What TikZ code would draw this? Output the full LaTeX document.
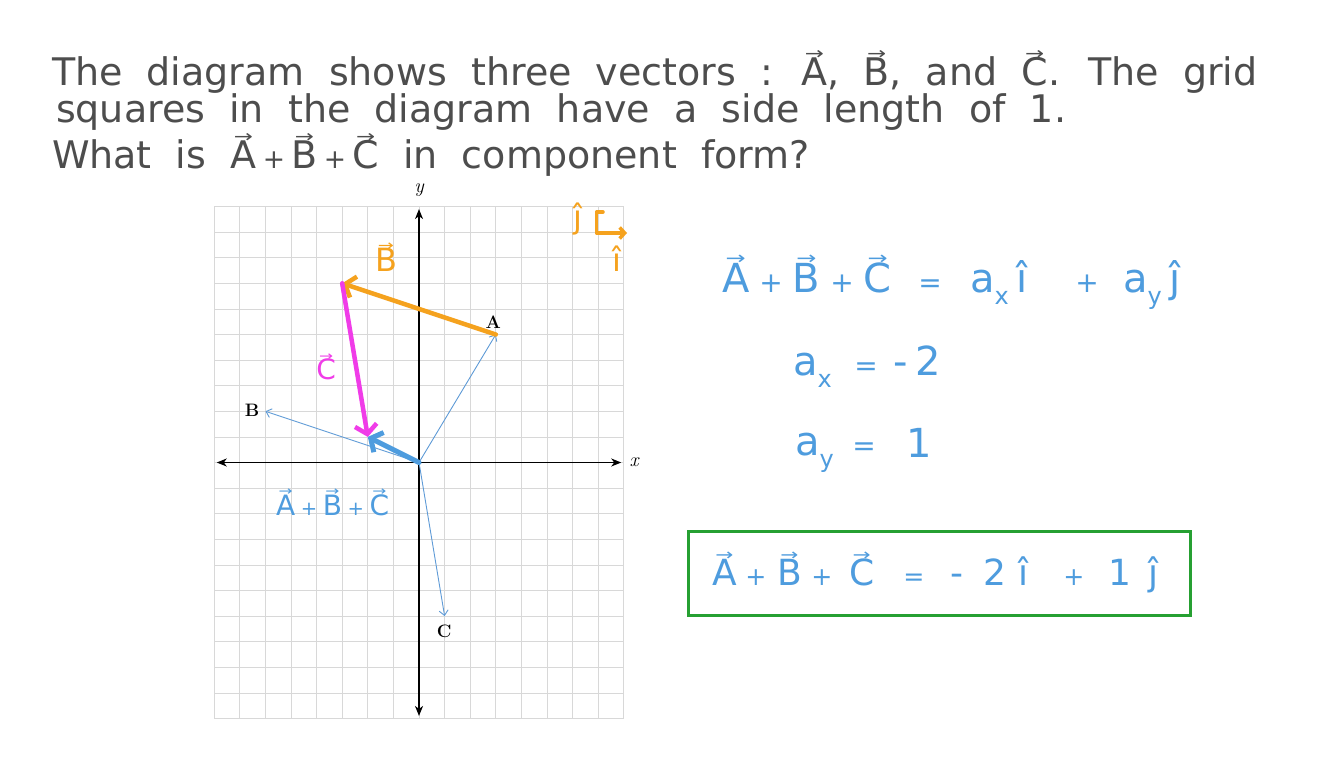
\documentclass[tikz,border=0pt]{standalone}
\usepackage{fontspec}
\usetikzlibrary{arrows.meta}
\newfontfamily\hand{DejaVu Sans}[WordSpace=2.0]
\definecolor{ink}{RGB}{77,77,77}
\definecolor{hblue}{RGB}{78,156,222}
\definecolor{vblue}{RGB}{95,155,215}
\definecolor{horange}{RGB}{245,162,30}
\definecolor{hpink}{RGB}{240,60,232}
\definecolor{hgreen}{RGB}{38,160,50}
\definecolor{gridc}{RGB}{216,216,216}
\newcommand{\vv}[1]{{\ooalign{#1\cr\hidewidth\raisebox{0.68em}{\scalebox{0.6}[0.45]{→}}\hidewidth\cr}}}
\newcommand{\lowsub}[1]{\raisebox{-0.3em}{\scalebox{0.6}{#1}}}
\newcommand{\splus}{\scalebox{0.7}{+}}
\newcommand{\seq}{\scalebox{0.7}{=}}
\begin{document}
\begin{tikzpicture}[x=1pt,y=-1pt,
  every node/.style={inner sep=0pt, outer sep=0pt},
  title/.style={font={\hand\fontsize{38}{44}\selectfont}, text=ink, anchor=base west},
  hb/.style={font={\hand\fontsize{40}{48}\selectfont}, text=hblue, anchor=base west},
  hbx/.style={font={\hand\fontsize{36}{44}\selectfont}, text=hblue, anchor=base west},
  gridline/.style={draw=gridc, line width=0.8pt},
  axis/.style={draw=black, line width=1.2pt, {Stealth[length=10pt,width=8pt,inset=3pt]}-{Stealth[length=10pt,width=8pt,inset=3pt]}},
  thinvec/.style={draw=vblue, line width=0.9pt, -{Straight Barb[length=5pt,width=9pt]}},
  bigvec/.style={line width=4.5pt, line cap=round, -{Straight Barb[length=9pt,width=22pt]}},
  ptlabel/.style={font=\fontsize{18}{20}\selectfont\bfseries},
  axlabel/.style={font=\fontsize{20}{22}\selectfont\itshape},
]
\useasboundingbox (0,0) rectangle (1344,756);
\fill[white] (0,0) rectangle (1344,756);

% title
\node[title] (l1) at (52,85) {The diagram shows three vectors : \vv{A}, \vv{B}, and \vv{C}. The grid};
\node[title] (l2) at (56,122) {squares in the diagram have a side length of 1.};
\node[title] (l3) at (52,168) {What is \vv{A}\,\splus\,\vv{B}\,\splus\,\vv{C} in component form?};

% graph
\begin{scope}[shift={(419,462.5)}, x=25.6pt, y=25.6pt]
  \foreach \i in {-8,...,8} \draw[gridline] (\i,-10) -- (\i,10);
  \foreach \j in {-10,...,10} \draw[gridline] (-8,\j) -- (8,\j);
  \coordinate (xl) at (-7.9,0);
  \coordinate (xr) at (7.9,0);
  \coordinate (yb) at (0,-9.9);
  \coordinate (yt) at (0,9.9);
  \draw[axis] (xl) -- (xr);
  \draw[axis] (yb) -- (yt);
  \node[axlabel] (xlab) at (8.4,0) {x};
  \node[axlabel] (ylab) at (0,10.65) {y};
  \coordinate (O) at (0,0);
  \coordinate (PA) at (3,5);
  \coordinate (PB) at (-6,2);
  \coordinate (PC) at (1,-6);
  \coordinate (P2) at (-3,7);
  \coordinate (R) at (-2,1);
  \draw[thinvec] (O) -- (PA);
  \draw[thinvec] (O) -- (PB);
  \draw[thinvec] (O) -- (PC);
  \node[ptlabel] (labA) at (2.9,5.5) {A};
  \node[ptlabel] (labB) at (-6.52,2.05) {B};
  \node[ptlabel] (labC) at (0.98,-6.6) {C};
  \draw[bigvec, draw=horange] (PA) -- (P2);
  \draw[bigvec, draw=hpink] (P2) -- (R);
  \draw[bigvec, draw=hblue, line width=5pt] (O) -- (R);
  \node[font={\hand\fontsize{32}{36}\selectfont}, text=horange] (lB) at (-1.29,7.9) {\vv{B}};
  \node[font={\hand\fontsize{28}{32}\selectfont}, text=hpink] (lC) at (-3.63,3.65) {\vv{C}};
\end{scope}

\node[font={\hand\fontsize{28}{32}\selectfont}, text=hblue, anchor=base west] (sumlab) at (276,515)
  {\vv{A}\hspace{0.2em}\splus\hspace{0.2em}\vv{B}\hspace{0.2em}\splus\hspace{0.2em}\vv{C}};

% unit vector icon
\node[font={\hand\fontsize{32}{36}\selectfont}, text=horange] (uj) at (578,219) {ĵ};
\node[font={\hand\fontsize{32}{36}\selectfont}, text=horange] (ui) at (617,259) {î};
\coordinate (u0) at (603,212);
\coordinate (u1) at (596.5,212);
\coordinate (u2) at (596.5,233);
\coordinate (u3) at (627,233);
\draw[horange, line width=3.5pt, line join=round, line cap=round, -{Straight Barb[length=5pt,width=11pt]}] (u0) -- (u1) -- (u2) -- (u3);

% right-hand working
\node[hb] (r1a) at (722,292) {\vv{A}\hspace{0.25em}\splus\hspace{0.25em}\vv{B}\hspace{0.25em}\splus\hspace{0.25em}\vv{C}};
\node[hb, anchor=base] (r1eq) at (930,292) {\seq};
\node[hb] (r1b) at (970,292) {a\lowsub{x}\hspace{0.2em}î};
\node[hb, anchor=base] (r1p) at (1087,292) {\splus};
\node[hb] (r1c) at (1123,292) {a\lowsub{y}\hspace{0.2em}ĵ};

\node[hb] (r2a) at (793,375) {a\lowsub{x}};
\node[hb, anchor=base] (r2eq) at (866,375) {\seq};
\node[hb, anchor=base] (r2m) at (901,375) {-};
\node[hb] (r2v) at (915,375) {2};

\node[hb] (r3a) at (795,455) {a\lowsub{y}};
\node[hb, anchor=base] (r3eq) at (864,455) {\seq};
\node[hb] (r3v) at (906,457) {1};

% answer box
\node[draw=hgreen, line width=3pt, minimum width=502pt, minimum height=84pt] (box) at (939,573) {};
\node[hbx] (bA) at (712,585) {\vv{A}};
\node[hbx, anchor=base] (bp1) at (756,585) {\splus};
\node[hbx] (bB) at (777,585) {\vv{B}};
\node[hbx, anchor=base] (bp2) at (822,585) {\splus};
\node[hbx] (bC) at (849,585) {\vv{C}};
\node[hbx, anchor=base] (beq) at (914,585) {\seq};
\node[hbx, anchor=base] (bm) at (957,585) {-};
\node[hbx] (b2) at (983,585) {2};
\node[hbx] (bi) at (1018,585) {î};
\node[hbx, anchor=base] (bp3) at (1074,585) {\splus};
\node[hbx] (b1) at (1108,585) {1};
\node[hbx] (bj) at (1148,585) {ĵ};
\end{tikzpicture}
\end{document}
